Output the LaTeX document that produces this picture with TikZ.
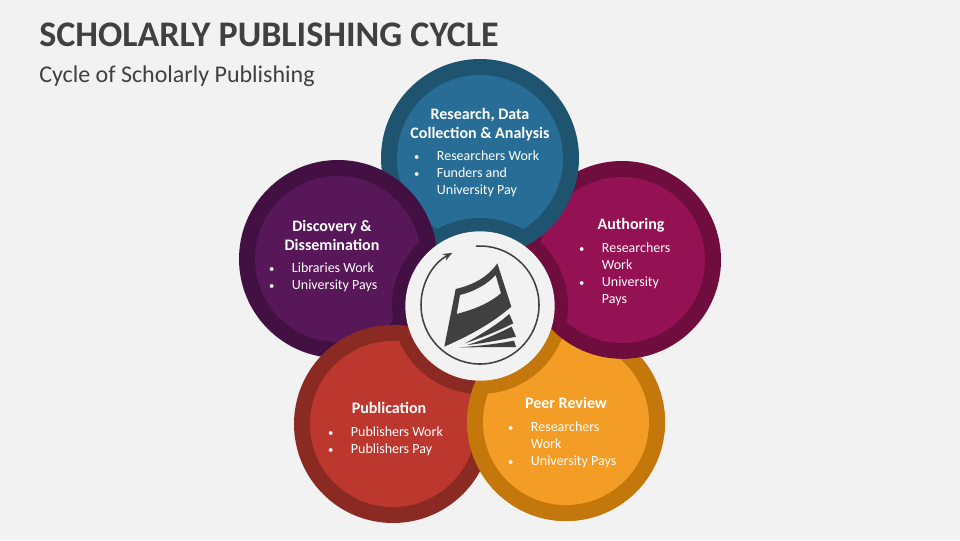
\documentclass[tikz,border=0pt]{standalone}
\usepackage{fontspec}
\setmainfont{Carlito}
\usetikzlibrary{arrows.meta, calc}

\definecolor{pagebg}{HTML}{F2F2F2}
\definecolor{inkgrey}{HTML}{404040}
\definecolor{bluedark}{HTML}{1F5470}
\definecolor{bluecore}{HTML}{276D96}
\definecolor{magdark}{HTML}{6F0D3F}
\definecolor{magcore}{HTML}{941254}
\definecolor{orgdark}{HTML}{C4780C}
\definecolor{orgcore}{HTML}{F39C26}
\definecolor{reddark}{HTML}{8B2A22}
\definecolor{redcore}{HTML}{BC382F}
\definecolor{purdark}{HTML}{421043}
\definecolor{purcore}{HTML}{581758}

\newenvironment{blist}{\begin{tabular}{@{}p{17.75pt}@{}l@{}}}{\end{tabular}}
\newcommand{\bl}{\hspace{0.6pt}{\fontsize{8}{8}\selectfont •}}

% ring, core and collar of one petal
\newcommand{\drawpetal}[4]{
    \node[ring, fill=#3] (#1_ring) at #2 {};
    \node[core, fill=#4] (#1_core) at #2 {};
    \begin{scope}
        \clip #2 circle (99);
        \fill[#3] (480,306) circle (88);
    \end{scope}
}

\begin{document}
\begin{tikzpicture}[
    x=0.75pt, y=-0.75pt,
    ring/.style={circle, minimum size=148.5pt, inner sep=0pt, outer sep=0pt},
    core/.style={circle, minimum size=124.5pt, inner sep=0pt, outer sep=0pt},
    head/.style={font=\fontsize{12}{14.25}\selectfont\bfseries, text=white, align=center, inner sep=0pt},
    lst/.style={font=\fontsize{10.5}{12.75}\selectfont, text=white, anchor=north west, inner sep=0pt},
]

    \useasboundingbox (0,0) rectangle (960,540);
    \fill[pagebg] (0,0) rectangle (960,540);

    % Titles
    \node[font=\fontsize{27}{32}\selectfont\bfseries, text=inkgrey, anchor=west, inner sep=0pt] (title) at (39,35) {SCHOLARLY PUBLISHING CYCLE};
    \node[font=\fontsize{18}{22}\selectfont, text=inkgrey, anchor=west, inner sep=0pt] (subtitle) at (39,76) {Cycle of Scholarly Publishing};

    % Petals, each one over the next
    \drawpetal{org}{(566,422)}{orgdark}{orgcore}
    \drawpetal{mag}{(622,260)}{magdark}{magcore}
    \drawpetal{blu}{(480,158)}{bluedark}{bluecore}
    \drawpetal{pur}{(338,259)}{purdark}{purcore}
    \drawpetal{red}{(393,424)}{reddark}{redcore}

    % Orange goes back over red, staying under magenta
    \begin{scope}[even odd rule]
        \clip (0,0) rectangle (960,540) (622,260) circle (99);
        \drawpetal{org}{(566,422)}{orgdark}{orgcore}
    \end{scope}

    % Hub
    \node[circle, fill=pagebg, minimum size=112pt, inner sep=0pt] (hub) at (480,306) {};

    % Hub arrow
    \draw[inkgrey, line width=1.15pt, -{Stealth[length=7pt, width=5.5pt]}]
        ($(480,305)+(-94:59)$) arc[start angle=-94, end angle=242, radius=59];

    % Book
    \begin{scope}[shift={(390,210)}, scale=1/3]
        \fill[inkgrey, even odd rule]
            (197,237) .. controls (250,225) and (295,200) .. (322,160) -- (364,290)
            .. controls (300,345) and (230,380) .. (163,410) -- cycle
            (210,255) .. controls (250,245) and (290,225) .. (317,195) -- (333,250)
            .. controls (290,285) and (245,300) .. (200,312) -- cycle;
        \fill[inkgrey] (358,312) -- (370,340) .. controls (320,365) and (270,385) .. (225,400) .. controls (270,375) and (320,345) .. (358,312) -- cycle;
        \fill[inkgrey] (365,350) -- (378,380) .. controls (330,390) and (280,400) .. (232,405) .. controls (280,390) and (325,370) .. (365,350) -- cycle;
        \fill[inkgrey] (372,392) -- (378,411) -- (207,412) .. controls (265,408) and (320,402) .. (372,392) -- cycle;
    \end{scope}

    % Research
    \node[head] (blu_head) at (480,125) {Research, Data\\Collection \& Analysis};
    \node[lst] (blu_list) at (413,148) {\begin{blist}\bl & Researchers Work\\\bl & Funders and\\ & University Pay\end{blist}};

    % Authoring
    \node[head] (mag_head) at (631,225) {Authoring};
    \node[lst] (mag_list) at (578,240) {\begin{blist}\bl & Researchers\\ & Work\\\bl & University\\ & Pays\end{blist}};

    % Peer review
    \node[head] (org_head) at (566,403) {Peer Review};
    \node[lst] (org_list) at (507,419) {\begin{blist}\bl & Researchers\\ & Work\\\bl & University Pays\end{blist}};

    % Publication
    \node[head] (red_head) at (389,408) {Publication};
    \node[lst] (red_list) at (327,424) {\begin{blist}\bl & Publishers Work\\\bl & Publishers Pay\end{blist}};

    % Discovery
    \node[head] (pur_head) at (332,235) {Discovery \&\\Dissemination};
    \node[lst] (pur_list) at (268,260) {\begin{blist}\bl & Libraries Work\\\bl & University Pays\end{blist}};

\end{tikzpicture}
\end{document}
